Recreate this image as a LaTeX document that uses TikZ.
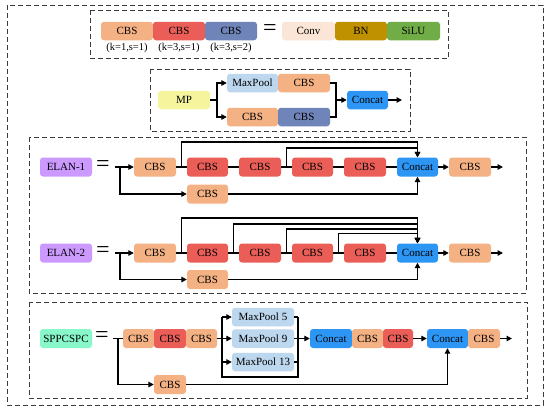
\documentclass[tikz,border=0pt]{standalone}
\usepackage{fontspec}
\setmainfont{Liberation Serif}
\usetikzlibrary{arrows.meta}
\definecolor{cbsO}{RGB}{244,177,131}
\definecolor{cbsR}{RGB}{234,94,87}
\definecolor{cbsB}{RGB}{111,132,184}
\definecolor{convC}{RGB}{251,229,214}
\definecolor{bnC}{RGB}{191,144,0}
\definecolor{siluC}{RGB}{112,173,71}
\definecolor{mpY}{RGB}{246,245,158}
\definecolor{poolC}{RGB}{189,215,238}
\definecolor{catC}{RGB}{45,150,245}
\definecolor{elanC}{RGB}{204,153,255}
\definecolor{sppC}{RGB}{136,248,202}
\definecolor{frameC}{RGB}{60,60,60}
\begin{document}
\begin{tikzpicture}[x=1pt,y=-1pt,
  blk/.style={rounded corners=3pt,inner sep=0pt,minimum height=18.5pt,text=black,font=\fontsize{11}{12}\selectfont},
  w/.style={minimum width=#1pt},
  frm/.style={draw=frameC,line width=0.9pt,dash pattern=on 5pt off 3pt},
  eqs/.style={inner sep=0pt,font=\fontsize{24}{26}\selectfont},
  lab/.style={inner sep=0pt,font=\fontsize{10.5}{12}\selectfont},
  con/.style={line width=1.3pt},
  arr/.style={line width=1.3pt,-{Triangle[length=5.5pt,width=5.5pt]}}]
\useasboundingbox (0,0) rectangle (550,413);
\fill[white] (0,0) rectangle (550,413);
% frames
\draw[frm] (7,5) rectangle (543,405);
\draw[frm] (90,10) rectangle (448,58.5);
\draw[frm] (150,69) rectangle (410,131);
\draw[frm] (29,137) rectangle (526,293);
\draw[frm] (29,302) rectangle (527,398);
% legend
\node[blk,w=52,fill=cbsO] (la) at (127,31) {CBS};
\node[blk,w=52,fill=cbsR] (lb) at (179,31) {CBS};
\node[blk,w=52,fill=cbsB] (lc) at (231,31) {CBS};
\node[lab] (lka) at (127,48) {(k=1,s=1)};
\node[lab] (lkb) at (179,48) {(k=3,s=1)};
\node[lab] (lkc) at (231,48) {(k=3,s=2)};
\node[eqs] (eq0) at (270,30) {=};
\node[blk,w=53,fill=convC] (conv) at (308.5,31) {Conv};
\node[blk,w=52,fill=bnC] (bn) at (361,31) {BN};
\node[blk,w=53,fill=siluC] (silu) at (413.5,31) {SiLU};
% MP
\node[blk,w=52,fill=mpY] (mp) at (184,100) {MP};
\node[blk,w=51,fill=poolC] (mpool) at (252.5,83) {MaxPool};
\node[blk,w=52,fill=cbsO] (mcT) at (304,83) {CBS};
\node[blk,w=51,fill=cbsO] (mcB) at (252.5,117) {CBS};
\node[blk,w=52,fill=cbsB] (mcBb) at (304,117) {CBS};
\node[blk,w=41,fill=catC] (mcat) at (367.5,100) {Concat};
\coordinate (ms) at (217,100);
\coordinate (mj) at (336,100);
\coordinate (mo) at (402,100);
\draw[con] (mp.east) -- (ms);
\draw[arr] (ms) |- (mpool.west);
\draw[arr] (ms) |- (mcB.west);
\draw[con] (mcT.east) -| (mj);
\draw[con] (mcBb.east) -| (mj);
\draw[arr] (mj) -- (mcat.west);
\draw[arr] (mcat.east) -- (mo);
% ELAN-1
\node[blk,w=52,fill=elanC,minimum height=19pt] (e1) at (66,167) {ELAN-1};
\node[eqs] (eq1) at (103,166) {=};
\node[blk,w=42,fill=cbsO,minimum height=19pt] (a1) at (155,167) {CBS};
\node[blk,w=41,fill=cbsR,minimum height=19pt] (a2) at (207.5,167) {CBS};
\node[blk,w=42,fill=cbsR,minimum height=19pt] (a3) at (260,167) {CBS};
\node[blk,w=41,fill=cbsR,minimum height=19pt] (a4) at (312.5,167) {CBS};
\node[blk,w=42,fill=cbsR,minimum height=19pt] (a5) at (365,167) {CBS};
\node[blk,w=41,fill=catC,minimum height=19pt] (acat) at (417.5,167) {Concat};
\node[blk,w=42,fill=cbsO,minimum height=19pt] (aout) at (470,167) {CBS};
\node[blk,w=41,fill=cbsO,minimum height=19pt] (ab) at (207.5,194) {CBS};
\coordinate (as) at (115,167);
\coordinate (abr) at (120,167);
\coordinate (ae) at (503,167);
\coordinate (ak1) at (181.5,167);
\coordinate (ak1u) at (181.5,142);
\coordinate (ak2) at (286.5,167);
\coordinate (ak2u) at (286.5,148);
\draw[arr] (as) -- (a1.west);
\draw[arr] (abr) |- (ab.west);
\draw[con] (a1) -- (a2);
\draw[con] (a2) -- (a3);
\draw[con] (a3) -- (a4);
\draw[con] (a4) -- (a5);
\draw[con] (a5) -- (acat);
\draw[arr] (acat.east) -- (aout.west);
\draw[arr] (aout.east) -- (ae);
\draw[arr] (ab.east) -| (acat.south);
\draw[arr] (ak1) -- (ak1u) -| (acat.north);
\draw[arr] (ak2) -- (ak2u) -| (acat.north);
% ELAN-2
\node[blk,w=52,fill=elanC,minimum height=19pt] (e2) at (66,253) {ELAN-2};
\node[eqs] (eq2) at (103,252) {=};
\node[blk,w=42,fill=cbsO,minimum height=19pt] (b1) at (155,253) {CBS};
\node[blk,w=41,fill=cbsR,minimum height=19pt] (b2) at (207.5,253) {CBS};
\node[blk,w=42,fill=cbsR,minimum height=19pt] (b3) at (260,253) {CBS};
\node[blk,w=41,fill=cbsR,minimum height=19pt] (b4) at (312.5,253) {CBS};
\node[blk,w=42,fill=cbsR,minimum height=19pt] (b5) at (365,253) {CBS};
\node[blk,w=41,fill=catC,minimum height=19pt] (bcat) at (417.5,253) {Concat};
\node[blk,w=42,fill=cbsO,minimum height=19pt] (bout) at (470,253) {CBS};
\node[blk,w=41,fill=cbsO,minimum height=19pt] (bb) at (207.5,279.5) {CBS};
\coordinate (bs) at (115,253);
\coordinate (bbr) at (120,253);
\coordinate (be) at (503,253);
\coordinate (bk1) at (181.5,253);
\coordinate (bk1u) at (181.5,218);
\coordinate (bk2) at (233.5,253);
\coordinate (bk2u) at (233.5,224);
\coordinate (bk3) at (286.5,253);
\coordinate (bk3u) at (286.5,229);
\coordinate (bk4) at (338.5,253);
\coordinate (bk4u) at (338.5,233.5);
\draw[arr] (bs) -- (b1.west);
\draw[arr] (bbr) |- (bb.west);
\draw[con] (b1) -- (b2);
\draw[con] (b2) -- (b3);
\draw[con] (b3) -- (b4);
\draw[con] (b4) -- (b5);
\draw[con] (b5) -- (bcat);
\draw[arr] (bcat.east) -- (bout.west);
\draw[arr] (bout.east) -- (be);
\draw[arr] (bb.east) -| (bcat.south);
\draw[arr] (bk1) -- (bk1u) -| (bcat.north);
\draw[arr] (bk2) -- (bk2u) -| (bcat.north);
\draw[arr] (bk3) -- (bk3u) -| (bcat.north);
\draw[arr] (bk4) -- (bk4u) -| (bcat.north);
% SPPCSPC
\node[blk,w=52,fill=sppC,minimum height=19pt] (sp) at (66,338.5) {SPPCSPC};
\node[eqs] (eq3) at (102,337.5) {=};
\node[blk,w=31,fill=cbsO,minimum height=19pt] (s1) at (138.5,338.5) {CBS};
\node[blk,w=32,fill=cbsR,minimum height=19pt] (s2) at (170,338.5) {CBS};
\node[blk,w=31,fill=cbsO,minimum height=19pt] (s3) at (201.5,338.5) {CBS};
\node[blk,w=62,fill=poolC] (p5) at (263,317) {MaxPool 5};
\node[blk,w=62,fill=poolC] (p9) at (263,338.5) {MaxPool 9};
\node[blk,w=62,fill=poolC] (p13) at (263,362) {MaxPool 13};
\node[blk,w=42,fill=catC,minimum height=19pt] (sc1) at (331,338.5) {Concat};
\node[blk,w=31,fill=cbsO,minimum height=19pt] (s4) at (367.5,338.5) {CBS};
\node[blk,w=30,fill=cbsR,minimum height=19pt] (s5) at (398,338.5) {CBS};
\node[blk,w=41,fill=catC,minimum height=19pt] (sc2) at (447.5,338.5) {Concat};
\node[blk,w=32,fill=cbsO,minimum height=19pt] (s6) at (484,338.5) {CBS};
\node[blk,w=32,fill=cbsO,minimum height=19pt] (sb) at (170,384.5) {CBS};
\coordinate (ss) at (113,338.5);
\coordinate (sbr) at (118,338.5);
\coordinate (se) at (512,338.5);
\coordinate (L5) at (222,317);
\coordinate (L13) at (222,362);
\coordinate (Lb) at (222,377);
\coordinate (Rb) at (298,377);
\coordinate (R5) at (298,317);
\coordinate (R13) at (298,362);
\draw[con] (ss) -- (s1.west);
\draw[arr] (sbr) |- (sb.west);
\draw[arr] (s3.east) -- (p9.west);
\draw[con] (L5) -- (Lb) -- (Rb) -- (R5);
\draw[arr] (L5) -- (p5.west);
\draw[arr] (L13) -- (p13.west);
\draw[con] (p5.east) -- (R5);
\draw[con] (p13.east) -- (R13);
\draw[arr] (p9.east) -- (sc1.west);
\draw[arr] (s5.east) -- (sc2.west);
\draw[arr] (s6.east) -- (se);
\draw[arr] (sb.east) -| (sc2.south);
\end{tikzpicture}
\end{document}
